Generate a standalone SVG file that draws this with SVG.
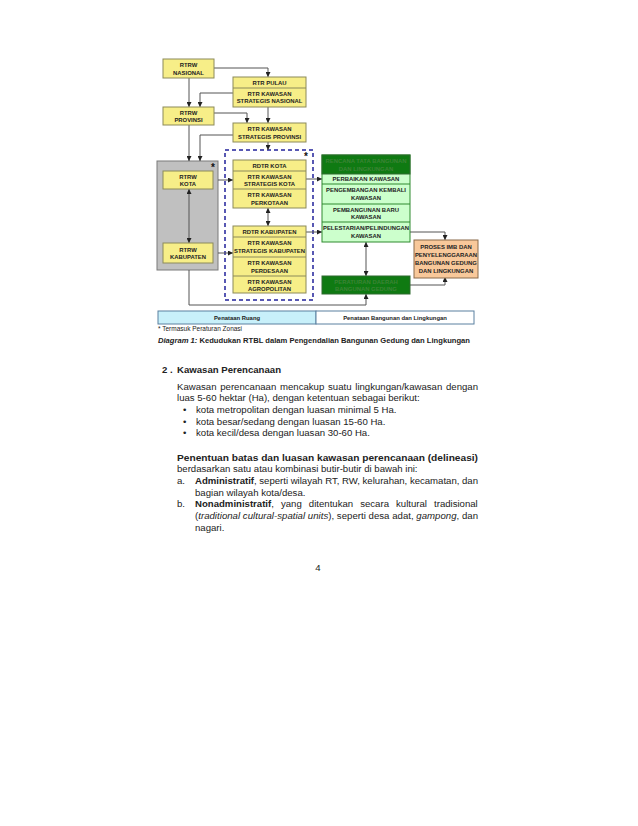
<svg xmlns="http://www.w3.org/2000/svg" width="638" height="826" viewBox="0 0 638 826">
<style>
.bg{fill:#ffffff}
.y{fill:#f7ee88;stroke:#8c8a5a;stroke-width:1}
.div{stroke:#8c8a5a;stroke-width:1}
.g{fill:#ccffcc;stroke:#2f8a2f;stroke-width:1}
.gd{fill:#0f7a12;stroke:#2f6a2f;stroke-width:1}
.gdiv{stroke:#2f8a2f;stroke-width:1}
.gray{fill:#c0c0c0;stroke:#7a7a7a;stroke-width:1}
.o{fill:#f8c89a;stroke:#8a6a4a;stroke-width:1}
.dash{fill:none;stroke:#22229a;stroke-width:1.5;stroke-dasharray:4 3}
.t{font-family:"Liberation Sans",Arial,sans-serif;font-size:5.9px;font-weight:bold;fill:#222;text-anchor:middle}
.td{font-family:"Liberation Sans",Arial,sans-serif;font-size:5.9px;font-weight:bold;fill:#3c8436;text-anchor:middle}
.ln{fill:none;stroke:#555;stroke-width:1}
.body{font-family:"Liberation Sans",Arial,sans-serif;font-size:9.6px;fill:#222}
.bold{font-weight:bold}
.star{font-family:"Liberation Sans",Arial,sans-serif;font-size:10px;font-weight:bold;fill:#111;text-anchor:middle}
</style>
<defs>
<marker id="ah" viewBox="0 0 10 10" refX="10" refY="5" markerWidth="5" markerHeight="5" orient="auto-start-reverse" markerUnits="userSpaceOnUse">
<path d="M0,0 L10,5 L0,10 z" fill="#222"/>
</marker>
</defs>
<rect class="bg" x="0" y="0" width="638" height="826"/>

<g id="gray-panel"><rect class="gray" x="157" y="161" width="61" height="109"/><text class="star" x="213" y="171">*</text></g>
<g id="dashed-panel"><rect class="dash" x="225" y="150" width="88" height="150"/><text class="star" x="306" y="160">*</text></g>

<g id="connectors">
<polyline class="ln" points="214,68 268,68 268,77" marker-end="url(#ah)"/>
<line class="ln" x1="189" y1="78" x2="189" y2="107" marker-end="url(#ah)"/>
<polyline class="ln" points="233,93 200,93 200,107" marker-end="url(#ah)"/>
<polyline class="ln" points="214,113 247,113 247,123" marker-end="url(#ah)"/>
<line class="ln" x1="268" y1="107" x2="268" y2="123" marker-end="url(#ah)"/>
<line class="ln" x1="268" y1="142" x2="268" y2="150" marker-end="url(#ah)"/>
<line class="ln" x1="189" y1="125" x2="189" y2="161" marker-end="url(#ah)"/>
<polyline class="ln" points="233,135 200,135 200,161" marker-end="url(#ah)"/>
<line class="ln" x1="218" y1="180" x2="233" y2="180" marker-end="url(#ah)"/>
<line class="ln" x1="306" y1="179" x2="322" y2="179" marker-end="url(#ah)"/>
<line class="ln" x1="189" y1="189" x2="189" y2="243" marker-start="url(#ah)" marker-end="url(#ah)"/>
<line class="ln" x1="268" y1="208" x2="268" y2="226" marker-start="url(#ah)" marker-end="url(#ah)"/>
<line class="ln" x1="218" y1="253" x2="233" y2="253" marker-end="url(#ah)"/>
<line class="ln" x1="306" y1="232" x2="322" y2="232" marker-end="url(#ah)"/>
<polyline class="ln" points="410,232 445,232 445,240" marker-end="url(#ah)"/>
<line class="ln" x1="366" y1="242" x2="366" y2="276" marker-start="url(#ah)" marker-end="url(#ah)"/>
<polyline class="ln" points="410,285 445,285 445,277" marker-end="url(#ah)"/>
<polyline class="ln" points="189,270 189,305 366,305 366,294" marker-end="url(#ah)"/>
</g>

<g id="rtrw-nasional"><rect class="y" x="163" y="59" width="51" height="19"/><text class="t" x="188.5" y="67">RTRW</text><text class="t" x="188.5" y="74.5">NASIONAL</text></g>
<g id="rtr-pulau"><rect class="y" x="233" y="77" width="73" height="30"/><line class="div" x1="233" y1="88" x2="306" y2="88"/><text class="t" x="269.5" y="84.5">RTR PULAU</text><text class="t" x="269.5" y="95.5">RTR KAWASAN</text><text class="t" x="269.5" y="103">STRATEGIS NASIONAL</text></g>
<g id="rtrw-provinsi"><rect class="y" x="163" y="107" width="51" height="18"/><text class="t" x="188.5" y="114.5">RTRW</text><text class="t" x="188.5" y="122">PROVINSI</text></g>
<g id="rtr-ksp"><rect class="y" x="233" y="123" width="73" height="19"/><text class="t" x="269.5" y="131">RTR KAWASAN</text><text class="t" x="269.5" y="138.5">STRATEGIS PROVINSI</text></g>
<g id="rtrw-kota"><rect class="y" x="163" y="171" width="50" height="18"/><text class="t" x="188" y="178.5">RTRW</text><text class="t" x="188" y="186">KOTA</text></g>
<g id="rtrw-kabupaten"><rect class="y" x="163" y="243" width="50" height="20"/><text class="t" x="188" y="251.5">RTRW</text><text class="t" x="188" y="259">KABUPATEN</text></g>
<g id="rdtr-kota"><rect class="y" x="233" y="160" width="73" height="48"/><line class="div" x1="233" y1="171" x2="306" y2="171"/><line class="div" x1="233" y1="189" x2="306" y2="189"/><text class="t" x="269.5" y="167.5">RDTR KOTA</text><text class="t" x="269.5" y="178.5">RTR KAWASAN</text><text class="t" x="269.5" y="186">STRATEGIS KOTA</text><text class="t" x="269.5" y="197">RTR KAWASAN</text><text class="t" x="269.5" y="204.5">PERKOTAAN</text></g>
<g id="rdtr-kabupaten"><rect class="y" x="233" y="226" width="73" height="67"/><line class="div" x1="233" y1="237" x2="306" y2="237"/><line class="div" x1="233" y1="257" x2="306" y2="257"/><line class="div" x1="233" y1="276" x2="306" y2="276"/><text class="t" x="269.5" y="233.5">RDTR KABUPATEN</text><text class="t" x="269.5" y="245">RTR KAWASAN</text><text class="t" x="269.5" y="252.5">STRATEGIS KABUPATEN</text><text class="t" x="269.5" y="265">RTR KAWASAN</text><text class="t" x="269.5" y="272.5">PERDESAAN</text><text class="t" x="269.5" y="283.5">RTR KAWASAN</text><text class="t" x="269.5" y="291">AGROPOLITAN</text></g>
<g id="rtbl"><rect class="g" x="322" y="155" width="88" height="87"/><rect class="gd" x="322" y="155" width="88" height="19"/><line class="gdiv" x1="322" y1="184" x2="410" y2="184"/><line class="gdiv" x1="322" y1="204" x2="410" y2="204"/><line class="gdiv" x1="322" y1="222" x2="410" y2="222"/><text class="td" x="366" y="163">RENCANA TATA BANGUNAN</text><text class="td" x="366" y="170.5">DAN LINGKUNGAN</text><text class="t" x="366" y="181">PERBAIKAN KAWASAN</text><text class="t" x="366" y="192">PENGEMBANGAN KEMBALI</text><text class="t" x="366" y="199.5">KAWASAN</text><text class="t" x="366" y="211.5">PEMBANGUNAN BARU</text><text class="t" x="366" y="219">KAWASAN</text><text class="t" x="366" y="230">PELESTARIAN/PELINDUNGAN</text><text class="t" x="366" y="237.5">KAWASAN</text></g>
<g id="perda"><rect class="gd" x="322" y="276" width="88" height="18"/><text class="td" x="366" y="283.5">PERATURAN DAERAH</text><text class="td" x="366" y="291">BANGUNAN GEDUNG</text></g>
<g id="proses-imb"><rect class="o" x="414" y="240" width="64" height="38"/><text class="t" x="446" y="248.5">PROSES IMB DAN</text><text class="t" x="446" y="256.5">PENYELENGGARAAN</text><text class="t" x="446" y="264.5">BANGUNAN GEDUNG</text><text class="t" x="446" y="272.5">DAN LINGKUNGAN</text></g>
<g id="bottom-bar"><rect x="158" y="311" width="158" height="13" fill="#c8f0fa" stroke="#5a80a0" stroke-width="1"/><rect x="316" y="311" width="158" height="13" fill="#ffffff" stroke="#5a80a0" stroke-width="1"/><text class="t" x="237" y="319.5">Penataan Ruang</text><text class="t" x="395" y="319.5">Penataan Bangunan dan Lingkungan</text></g>

<g id="caption">
<text x="158" y="331" font-family="'Liberation Sans',Arial,sans-serif" font-size="6.5px" fill="#222">* Termasuk Peraturan Zonasi</text>
<text x="158" y="343" font-family="'Liberation Sans',Arial,sans-serif" font-size="8px" font-weight="bold" fill="#222" textLength="312" lengthAdjust="spacingAndGlyphs"><tspan font-style="italic">Diagram 1:</tspan> Kedudukan RTBL dalam Pengendalian Bangunan Gedung dan Lingkungan</text>
</g>

<g id="body-text">
<text x="162" y="373" class="body bold" font-size="10.2px">2 .</text>
<text x="177" y="373" class="body bold" font-size="10.2px">Kawasan Perencanaan</text>
<text class="body" x="177" y="389.5" word-spacing="1.1">Kawasan perencanaan mencakup suatu lingkungan/kawasan dengan</text>
<text class="body" x="177" y="401.2">luas 5-60 hektar (Ha), dengan ketentuan sebagai berikut:</text>
<text class="body" x="183" y="412.9">•</text><text class="body" x="196" y="412.9">kota metropolitan dengan luasan minimal 5 Ha.</text>
<text class="body" x="183" y="424.6">•</text><text class="body" x="196" y="424.6">kota besar/sedang dengan luasan 15-60 Ha.</text>
<text class="body" x="183" y="436.3">•</text><text class="body" x="196" y="436.3">kota kecil/desa dengan luasan 30-60 Ha.</text>
<text class="body bold" x="177" y="460.5" textLength="301" lengthAdjust="spacingAndGlyphs">Penentuan batas dan luasan kawasan perencanaan (delineasi)</text>
<text class="body" x="177" y="472.2">berdasarkan satu atau kombinasi butir-butir di bawah ini:</text>
<text class="body" x="177" y="483.9">a.</text>
<text class="body" x="195" y="483.9" textLength="283" lengthAdjust="spacing"><tspan font-weight="bold">Administratif</tspan>, seperti wilayah RT, RW, kelurahan, kecamatan, dan</text>
<text class="body" x="195" y="495.6">bagian wilayah kota/desa.</text>
<text class="body" x="177" y="507.3">b.</text>
<text class="body" x="195" y="507.3" word-spacing="4.4"><tspan font-weight="bold">Nonadministratif</tspan>, yang ditentukan secara kultural tradisional</text>
<text class="body" x="195" y="519" textLength="283" lengthAdjust="spacing">(<tspan font-style="italic">traditional cultural-spatial units</tspan>), seperti desa adat, <tspan font-style="italic">gampong</tspan>, dan</text>
<text class="body" x="195" y="530.7">nagari.</text>
<text class="body" x="318" y="571" text-anchor="middle">4</text>
</g>
</svg>
